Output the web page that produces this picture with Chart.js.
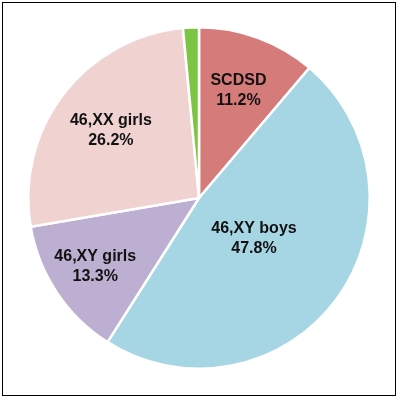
<!DOCTYPE html>
<html>
<head>
<meta charset="utf-8">
<script src="https://cdn.jsdelivr.net/npm/chart.js@4"></script>
<style>
  html, body { margin: 0; padding: 0; background: #fff; }
  #wrap { position: absolute; left: 2px; top: 2px; width: 394px; height: 394px; border: 1px solid #000; box-sizing: border-box; }
</style>
</head>
<body>
<div id="wrap"><canvas id="pieChart" width="392" height="392"></canvas></div>
<script>
// datos del grafico
const categories = ['SCDSD', '46,XY boys', '46,XY girls', '46,XX girls', ''];
const values = [11.2, 47.8, 13.3, 26.2, 1.5];
const labelLines = [['SCDSD', '11.2%'], ['46,XY boys', '47.8%'], ['46,XY girls', '13.3%'], ['46,XX girls', '26.2%'], []];
const colors = ['#d57b7a', '#a6d6e3', '#bdafd1', '#f0d2d1', '#7cc544'];
const labelRadius = [0.67, 0.4, 0.73, 0.65, 0];

// plugin para dibujar las etiquetas dentro de cada porcion
const sliceLabels = {
    id: 'sliceLabels',
    afterDatasetsDraw(chart) {
        const ctx = chart.ctx;
        const meta = chart.getDatasetMeta(0);
        ctx.save();
        ctx.font = 'bold 16px Arial, "Liberation Sans", sans-serif';
        ctx.fillStyle = '#111';
        ctx.textAlign = 'center';
        ctx.textBaseline = 'middle';
        meta.data.forEach((arc, i) => {
            const lines = labelLines[i];
            if (!lines.length) return;
            const mid = (arc.startAngle + arc.endAngle) / 2;
            const r = arc.outerRadius * labelRadius[i];
            const x = arc.x + Math.cos(mid) * r;
            const y = arc.y + Math.sin(mid) * r;
            lines.forEach((t, j) => {
                ctx.fillText(t, x, y + (j - (lines.length - 1) / 2) * 20);
            });
        });
        ctx.restore();
    }
};

new Chart(document.getElementById('pieChart').getContext('2d'), {
    type: 'pie',
    data: {
        labels: categories,
        datasets: [{
            data: values,
            backgroundColor: colors,
            borderColor: '#fff',
            borderWidth: 2.5
        }]
    },
    options: {
        responsive: false,
        animation: false,
        layout: { padding: { top: 20, bottom: 22, left: 24, right: 24 } },
        plugins: {
            legend: { display: false },
            tooltip: { enabled: false }
        }
    },
    plugins: [sliceLabels]
});
</script>
</body>
</html>
